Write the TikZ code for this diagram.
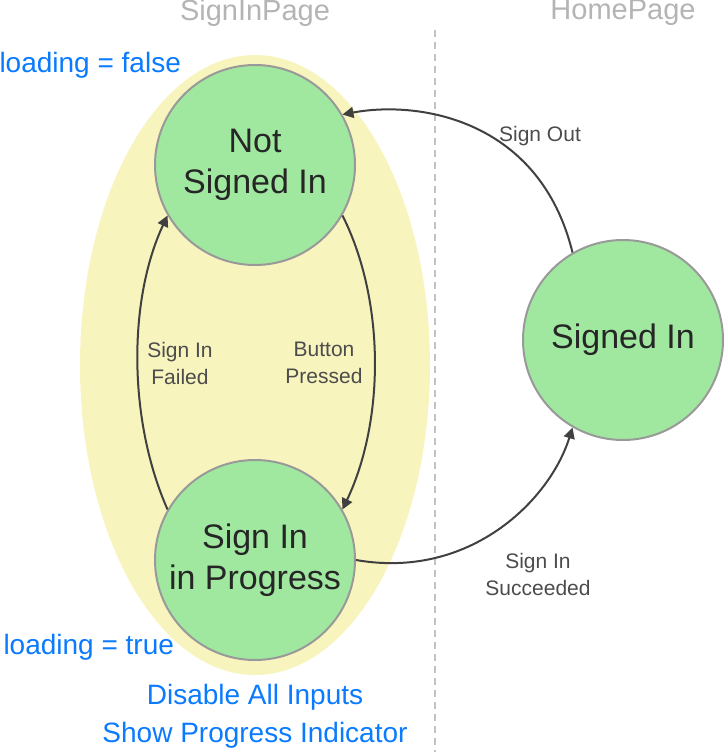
\documentclass[tikz,border=0pt]{standalone}
\usepackage{fontspec}
\setmainfont{Liberation Sans}
\usetikzlibrary{arrows.meta}
\definecolor{stategreen}{HTML}{A0E8A0}
\definecolor{yell}{HTML}{F8F4BE}
\definecolor{iosblue}{HTML}{0A7AFF}
\definecolor{titlegray}{HTML}{B4B4B4}
\begin{document}
\begin{tikzpicture}[x=1pt,y=-1pt,
  state/.style={circle,draw=gray!80,line width=2pt,fill=stategreen,minimum size=200pt,inner sep=0pt,align=center,font=\fontsize{34}{41}\selectfont,text=black!85},
  lbl/.style={align=center,font=\fontsize{21}{27}\selectfont,text=black!70},
  title/.style={font=\fontsize{29}{30}\selectfont,text=titlegray},
  blue/.style={font=\fontsize{28}{38}\selectfont,text=iosblue,align=center},
  arr/.style={draw=black!75,line width=2pt,-{Triangle[length=11pt,width=11pt]}}]
\useasboundingbox (0,0) rectangle (725,752);
\fill[yell] (255,365) ellipse [x radius=175, y radius=310];
\draw[titlegray!80,dashed,line width=1.2pt,dash pattern=on 7pt off 5pt] (435,30) -- (435,752);
\node[title] (t1) at (255,13) {SignInPage};
\node[title] (t2) at (623,13) {HomePage};
\node[state] (ns) at (255,165) {Not\\Signed In};
\node[state] (ip) at (255,560) {Sign In\\in Progress};
\node[state] (si) at (623,340) {Signed In};
\node[blue,anchor=west] (lf) at (-4,65) {loading = false};
\node[blue,anchor=west] (lt) at (0,647) {loading = true};
\node[blue] (di) at (255,716) {Disable All Inputs\\Show Progress Indicator};
\draw[arr] (ip.150) .. controls (128,420) and (128,300) .. (ns.210);
\draw[arr] (ns.-30) .. controls (385,300) and (385,420) .. (ip.30);
\draw[arr] (si.120) .. controls (540,120) and (420,100) .. (ns.30);
\draw[arr] (ip.0) .. controls (470,580) and (550,500) .. (si.-120);
\node[lbl] (l1) at (180,363) {Sign In\\Failed};
\node[lbl] (l2) at (324,363) {Button\\Pressed};
\node[lbl] (l3) at (540,136) {Sign Out};
\node[lbl] (l4) at (538,574) {Sign In\\Succeeded};
\end{tikzpicture}
\end{document}
